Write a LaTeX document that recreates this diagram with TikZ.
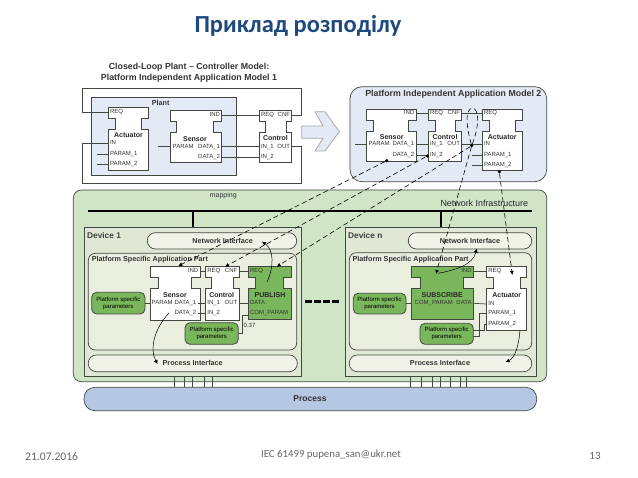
\documentclass[tikz,border=0pt]{standalone}
\usepackage{fontspec}
\setmainfont{Liberation Sans}
\newfontfamily\slidefont{Carlito}
\usetikzlibrary{arrows.meta}
\definecolor{titleblue}{HTML}{1F497D}
\definecolor{modelblue}{HTML}{E4EAF5}
\definecolor{plantgreen}{HTML}{CFE5C6}
\definecolor{devicegray}{HTML}{E1E7D5}
\definecolor{partgray}{HTML}{E9EEDF}
\definecolor{ifacegray}{HTML}{F1F3E8}
\definecolor{blockgreen}{HTML}{7AB65C}
\definecolor{processblue}{HTML}{B5C7E3}
\definecolor{linegray}{HTML}{404840}
\tikzset{
	wire/.style = {draw = linegray, line width = 0.7},
	port/.style = {font = \fontsize{6}{6}\selectfont, text = black!80, inner sep = 1.5, text height = 4, text depth = 1},
	blockname/.style = {font = \bfseries\fontsize{7}{8}\selectfont, text = black!85, inner sep = 0},
	boxname/.style = {font = \bfseries\fontsize{7.2}{8}\selectfont, text = black!80, inner sep = 0},
	iface/.style = {wire, fill = ifacegray, rounded corners = 8},
	psp/.style = {wire, line width = 0.8, fill = blockgreen, rounded corners = 5},
	psptext/.style = {font = \fontsize{6}{7}\selectfont, align = center, inner sep = 0},
	map/.style = {draw = black, line width = 0.6, dash pattern = on 5 off 3},
	dotmark/.style = {circle, fill = black, inner sep = 0, minimum size = 3.5},
	tip/.style = {-{Latex[length = 4, width = 4]}}
}
% #1 fill, #2 x1, #3 x2, #4 left notch, #5 right notch, #6 y1, #7 y2
\newcommand{\fblock}[7][white]{
	\draw[wire, fill = #1] (#2, #6) -- (#3, #6) -- (#3, #6 + 11) -- (#3 - #5, #6 + 11) -- (#3 - #5, #6 + 22) -- (#3, #6 + 22)
		-- (#3, #7) -- (#2, #7) -- (#2, #6 + 22) -- (#2 + #4, #6 + 22) -- (#2 + #4, #6 + 11) -- (#2, #6 + 11) -- cycle;
}
\begin{document}
\begin{tikzpicture}[x = 1pt, y = -1pt]
		\useasboundingbox (0, 0) rectangle (638, 478);
		% Title and footer
		\node[font = \slidefont\bfseries\fontsize{24.5}{28}\selectfont, text = titleblue] (title) at (298, 26) {Приклад розподілу};
		\node[font = \slidefont\fontsize{11.6}{13}\selectfont, text = black!60, anchor = west, inner sep = 0] (date) at (25, 457) {21.07.2016};
		\node[font = \slidefont\fontsize{10.8}{13}\selectfont, text = black!60] (event) at (331, 455) {IEC 61499 pupena\_san@ukr.net};
		\node[font = \slidefont\fontsize{11}{13}\selectfont, text = black!60] (page) at (595, 456) {13};
		% Model 1
		\node[font = \bfseries\fontsize{8.8}{11.4}\selectfont, align = center, text = black!80] (titleOne) at (189, 72.5) {Closed-Loop Plant -- Controller Model:\\Platform Independent Application Model 1};
		\draw[wire, fill = modelblue] (91.7, 97.3) rectangle (236.7, 175);
		\node[boxname] (plant) at (160.7, 102.7) {Plant};
		\fblock{108.3}{148.3}{6.7}{6.7}{107.3}{170}
		\fblock{170}{221.7}{6.7}{8.4}{110.7}{162.7}
		\fblock{259.3}{291.7}{5.7}{5.7}{110.7}{162.7}
		\node[blockname] (actOne) at (128.5, 135) {Actuator};
		\node[blockname] (senOne) at (195, 139) {Sensor};
		\node[blockname] (ctlOne) at (275.5, 138) {Control};
		\node[port, anchor = west] (actOneReq) at (108.3, 112) {REQ};
		\node[port, anchor = west] (actOneIn) at (108.3, 143.3) {IN};
		\node[port, anchor = west] (actOneA) at (108.3, 154) {PARAM\_1};
		\node[port, anchor = west] (actOneB) at (108.3, 164) {PARAM\_2};
		\node[port, anchor = east] (senOneInd) at (221.7, 115) {IND};
		\node[port, anchor = west] (senOnePar) at (171, 146.7) {PARAM};
		\node[port, anchor = east] (senOneA) at (221.7, 146.7) {DATA\_1};
		\node[port, anchor = east] (senOneB) at (221.7, 157) {DATA\_2};
		\node[port, anchor = west] (ctlOneReq) at (259.3, 115) {REQ};
		\node[port, anchor = east] (ctlOneCnf) at (291.7, 115) {CNF};
		\node[port, anchor = west] (ctlOneA) at (259.3, 146.7) {IN\_1};
		\node[port, anchor = east] (ctlOneOut) at (291.7, 146.7) {OUT};
		\node[port, anchor = west] (ctlOneB) at (259.3, 157) {IN\_2};
		\coordinate (loopTL) at (82.3, 88.3);
		\coordinate (loopTR) at (301.7, 88.3);
		\coordinate (loopBL) at (82.7, 183);
		\coordinate (loopBR) at (301.7, 183);
		\coordinate (stubOneA) at (158.3, 146.7);
		\coordinate (stubOneB) at (97.3, 154);
		\coordinate (stubOneC) at (97.3, 164);
		\draw[wire] (actOneReq.west) -| (loopTL) -| (loopTR) |- (ctlOneCnf.east);
		\draw[wire] (actOneIn.west) -| (loopBL) -| (loopBR) |- (ctlOneOut.east);
		\draw[wire] (senOneInd.east) -- (ctlOneReq.west);
		\draw[wire] (senOneA.east) -- (ctlOneA.west);
		\draw[wire] (senOneB.east) -- (ctlOneB.west);
		\draw[wire] (stubOneA) -- (senOnePar.west);
		\draw[wire] (stubOneB) -- (actOneA.west);
		\draw[wire] (stubOneC) -- (actOneB.west);
		% Big arrow
		\draw[draw = black!35, fill = modelblue, line width = 0.8] (301.7, 126) -- (323, 126) -- (315, 111.7) -- (325, 111.7) -- (339.3, 131.7) -- (325, 151) -- (315, 151) -- (323, 138.3) -- (301.7, 138.3) -- cycle;
		% Model 2
		\draw[wire, fill = modelblue, rounded corners = 12] (350, 86.7) rectangle (546.7, 181.7);
		\node[font = \bfseries\fontsize{8.8}{10}\selectfont, text = black!80] (titleTwo) at (453.3, 94.3) {Platform Independent Application Model 2};
		\fblock{366}{416}{7.3}{7.7}{109}{161}
		\fblock{428.3}{461.7}{6.7}{6.7}{109}{161}
		\fblock{482.3}{522.7}{6.7}{7}{109}{170.7}
		\node[blockname] (senTwo) at (391.7, 136.7) {Sensor};
		\node[blockname] (ctlTwo) at (445, 136.7) {Control};
		\node[blockname] (actTwo) at (502.3, 136.7) {Actuator};
		\node[port, anchor = east] (senTwoInd) at (416, 113.3) {IND};
		\node[port, anchor = west] (senTwoPar) at (367, 144.3) {PARAM};
		\node[port, anchor = east] (senTwoA) at (416, 144.3) {DATA\_1};
		\node[port, anchor = east] (senTwoB) at (416, 155.3) {DATA\_2};
		\node[port, anchor = west] (ctlTwoReq) at (428.3, 113.3) {REQ};
		\node[port, anchor = east] (ctlTwoCnf) at (461.7, 113.3) {CNF};
		\node[port, anchor = west] (ctlTwoA) at (428.3, 144.3) {IN\_1};
		\node[port, anchor = east] (ctlTwoOut) at (461.7, 144.3) {OUT};
		\node[port, anchor = west] (ctlTwoB) at (428.3, 155.3) {IN\_2};
		\node[port, anchor = west] (actTwoReq) at (482.3, 113.3) {REQ};
		\node[port, anchor = west] (actTwoIn) at (482.3, 144.3) {IN};
		\node[port, anchor = west] (actTwoA) at (482.3, 155.3) {PARAM\_1};
		\node[port, anchor = west] (actTwoB) at (482.3, 165.3) {PARAM\_2};
		\coordinate (stubTwoA) at (355, 144.3);
		\coordinate (stubTwoB) at (472.3, 155.3);
		\coordinate (stubTwoC) at (472.3, 165.3);
		\draw[wire] (senTwoInd.east) -- (ctlTwoReq.west);
		\draw[wire] (ctlTwoCnf.east) -- (actTwoReq.west);
		\draw[wire] (senTwoA.east) -- (ctlTwoA.west);
		\draw[wire] (senTwoB.east) -- (ctlTwoB.west);
		\draw[wire] (ctlTwoOut.east) -- (actTwoIn.west);
		\draw[wire] (stubTwoA) -- (senTwoPar.west);
		\draw[wire] (stubTwoB) -- (actTwoA.west);
		\draw[wire] (stubTwoC) -- (actTwoB.west);
		% Green panel
		\draw[wire, fill = plantgreen, rounded corners = 8] (73.3, 190) rectangle (546.7, 381.7);
		\node[font = \fontsize{7}{8}\selectfont, text = black!80] (mapping) at (223.3, 195.7) {mapping};
		\node[font = \fontsize{8.9}{10}\selectfont, text = black!85] (netInfra) at (484.3, 203.3) {Network Infrastructure};
		\coordinate (busL) at (88.3, 211);
		\coordinate (busR) at (531.7, 211);
		\coordinate (busOne) at (192.7, 211);
		\coordinate (busTwo) at (440.7, 211);
		\draw[line width = 2.4] (busL) -- (busR);
		% Device 1
		\node[inner sep = 0] (devOneTop) at (192.7, 227.7) {};
		\draw[line width = 2] (busOne) -- (devOneTop);
		\foreach \x in {174.3, 184.3, 192.7, 204, 212.7} {
			\draw[wire] (\x, 376) -- (\x, 387.3);
		}
		\draw[wire, fill = devicegray] (84, 227.7) rectangle (301.7, 376);
		\node[font = \bfseries\fontsize{8.3}{9}\selectfont, text = black!75, anchor = west, inner sep = 0] (devOne) at (87, 235.7) {Device 1};
		\draw[iface] (147.3, 232.7) rectangle (296.7, 249);
		\node[boxname] (netOne) at (222.7, 241) {Network Interface};
		\draw[wire, fill = partgray, rounded corners = 7] (88.3, 253.3) rectangle (296.7, 350);
		\node[boxname, anchor = west] (partOne) at (91.7, 259.7) {Platform Specific Application Part};
		\draw[iface] (88.3, 355) rectangle (297.3, 371.7);
		\node[boxname] (procOne) at (192.7, 363.3) {Process Interface};
		\fblock{150}{200}{8.3}{8.3}{266.7}{320}
		\fblock{205.7}{239}{6}{5.7}{266.7}{320}
		\fblock[blockgreen]{248.3}{291.7}{6.7}{8.4}{266.7}{319.3}
		\node[blockname] (senDev) at (175, 295) {Sensor};
		\node[blockname] (ctlDev) at (221.7, 295) {Control};
		\node[blockname] (pubDev) at (270, 295) {PUBLISH};
		\node[port, anchor = east] (senDevInd) at (200, 271) {IND};
		\node[port, anchor = west] (senDevPar) at (150, 303.3) {PARAM};
		\node[port, anchor = east] (senDevA) at (198, 303.3) {DATA\_1};
		\node[port, anchor = east] (senDevB) at (198, 313.3) {DATA\_2};
		\node[port, anchor = west] (ctlDevReq) at (205.7, 271) {REQ};
		\node[port, anchor = east] (ctlDevCnf) at (239, 271) {CNF};
		\node[port, anchor = west] (ctlDevA) at (205.7, 303.3) {IN\_1};
		\node[port, anchor = east] (ctlDevOut) at (239, 303.3) {OUT};
		\node[port, anchor = west] (ctlDevB) at (205.7, 313.3) {IN\_2};
		\node[port, anchor = west] (pubDevReq) at (248.3, 271) {REQ};
		\node[port, anchor = west] (pubDevA) at (248.3, 303.3) {DATA};
		\node[port, anchor = west] (pubDevB) at (248.3, 313.3) {COM\_PARAM};
		\draw[psp] (91.7, 292.3) rectangle (145, 314);
		\node[psptext] (pspA) at (118.3, 303) {Platform specific\\parameters};
		\draw[psp] (185, 322.7) rectangle (238.3, 344.3);
		\node[psptext] (pspB) at (211.7, 333.5) {Platform specific\\parameters};
		\node[port, anchor = west, inner sep = 0] (gain) at (243.5, 326) {0.37};
		\coordinate (pspAEast) at (145, 303.3);
		\coordinate (pspBEast) at (238.3, 333.3);
		\coordinate (pspBUp) at (242.7, 315);
		\draw[wire] (pspAEast) -- (senDevPar.west);
		\draw[wire] (pspBEast) -| (pspBUp) -- (248.3, 315);
		\draw[wire] (senDevInd.east) -- (ctlDevReq.west);
		\draw[wire] (ctlDevCnf.east) -- (pubDevReq.west);
		\draw[wire] (senDevA.east) -- (ctlDevA.west);
		\draw[wire] (senDevB.east) -- (ctlDevB.west);
		\draw[wire] (ctlDevOut.east) -- (pubDevA.west);
		% Separator
		\coordinate (sepL) at (305, 301.7);
		\coordinate (sepR) at (340, 301.7);
		\draw[line width = 2.6, dash pattern = on 6.5 off 2.5] (sepL) -- (sepR);
		% Device n
		\node[inner sep = 0] (devTwoTop) at (440.7, 227.7) {};
		\draw[line width = 2] (busTwo) -- (devTwoTop);
		\foreach \x in {410, 421.7, 432.3, 440.7, 450.7, 460, 466.7} {
			\draw[wire] (\x, 376) -- (\x, 387.3);
		}
		\draw[wire, fill = devicegray] (345, 227.7) rectangle (536, 376);
		\node[font = \bfseries\fontsize{8.3}{9}\selectfont, text = black!75, anchor = west, inner sep = 0] (devTwo) at (348, 235.7) {Device n};
		\draw[iface] (408.3, 232.7) rectangle (531.7, 249);
		\node[boxname] (netTwo) at (470, 241) {Network Interface};
		\draw[wire, fill = partgray, rounded corners = 7] (349.3, 252.7) rectangle (531.7, 350);
		\node[boxname, anchor = west] (partTwo) at (352.3, 259.7) {Platform Specific Application Part};
		\draw[iface] (349.3, 355) rectangle (531.7, 371.7);
		\node[boxname] (procTwo) at (440, 363.3) {Process Interface};
		\fblock[blockgreen]{411}{473.3}{9}{10}{266.7}{319.3}
		\fblock{486.7}{526.7}{6.7}{6.7}{266.7}{330}
		\node[blockname] (subDev) at (442.3, 295) {SUBSCRIBE};
		\node[blockname] (actDev) at (506.7, 295) {Actuator};
		\node[port, anchor = east] (subDevInd) at (473.3, 271) {IND};
		\node[port, anchor = west] (subDevPar) at (413, 303.3) {COM\_PARAM};
		\node[port, anchor = east] (subDevA) at (473.3, 303.3) {DATA};
		\node[port, anchor = west] (actDevReq) at (486.7, 271) {REQ};
		\node[port, anchor = west] (actDevIn) at (486.7, 304) {IN};
		\node[port, anchor = west] (actDevA) at (486.7, 313.3) {PARAM\_1};
		\node[port, anchor = west] (actDevB) at (486.7, 324) {PARAM\_2};
		\draw[psp] (353.3, 293.3) rectangle (406, 314);
		\node[psptext] (pspC) at (379.5, 303.5) {Platform specific\\parameters};
		\draw[psp] (420, 323.3) rectangle (473.3, 344.3);
		\node[psptext] (pspD) at (446.7, 333.5) {Platform specific\\parameters};
		\coordinate (pspCEast) at (406, 303.3);
		\coordinate (pspDOne) at (473.3, 336.7);
		\coordinate (pspDTwo) at (473.3, 330);
		\coordinate (pspDUpOne) at (479.3, 320);
		\coordinate (pspDUpTwo) at (484, 324);
		\draw[wire] (pspCEast) -- (411, 303.3);
		\draw[wire] (pspDOne) -| (pspDUpOne) |- (actDevA.west);
		\draw[wire] (pspDTwo) -| (pspDUpTwo) -- (actDevB.west);
		\draw[wire] (subDevInd.east) -- (actDevReq.west);
		\draw[wire] (subDevA.east) -- (actDevIn.west);
		% Process
		\draw[wire, fill = processblue, rounded corners = 11] (84, 387.3) rectangle (536.7, 410.7);
		\node[font = \bfseries\fontsize{8.5}{9}\selectfont, text = black!80, inner sep = 0] (process) at (310, 399) {Process};
		% Mapping
		\node[dotmark] (dotSen) at (386.7, 160.7) {};
		\node[dotmark] (dotCtl) at (427.3, 156) {};
		\node[dotmark] (dotOut) at (471.7, 145.7) {};
		\node[dotmark] (dotAct) at (499.3, 171.7) {};
		\coordinate (endSen) at (178.3, 266);
		\coordinate (endCtl) at (225, 266.7);
		\coordinate (endPub) at (276.7, 266.7);
		\coordinate (endSub) at (436, 274);
		\coordinate (endAct) at (512.3, 275);
		\coordinate (loopTop) at (472.5, 108.3);
		\draw[map, tip] (dotSen) -- (endSen);
		\draw[map, tip] (dotCtl) -- (endCtl);
		\draw[map, tip] (dotOut) -- (endPub);
		\draw[map, tip] (dotOut) .. controls (465, 122) and (466, 108.3) .. (loopTop) .. controls (478, 108.3) and (481, 122) .. (dotOut.center) -- (endSub);
		\draw[map, tip] (dotAct) -- (endAct);
		% Flow
		\coordinate (pubStart) at (267.3, 281.7);
		\coordinate (pubEnd) at (262, 241.5);
		\coordinate (subStart) at (438.3, 273.3);
		\coordinate (subEnd) at (476.7, 248.5);
		\coordinate (senStart) at (169.3, 312.7);
		\coordinate (senEnd) at (157.5, 364);
		\coordinate (actStart) at (520, 330);
		\coordinate (actEnd) at (505.5, 362);
		\draw[line width = 0.5, tip] (pubStart) .. controls (274, 266) and (274, 250) .. (pubEnd);
		\draw[line width = 0.5, tip] (subStart) .. controls (455, 270) and (473, 265) .. (subEnd);
		\draw[line width = 0.5, tip] (senStart) .. controls (153, 330) and (150, 350) .. (senEnd);
		\draw[line width = 0.5, tip] (actStart) .. controls (519, 345) and (515, 358) .. (actEnd);
	\end{tikzpicture}
\end{document}
